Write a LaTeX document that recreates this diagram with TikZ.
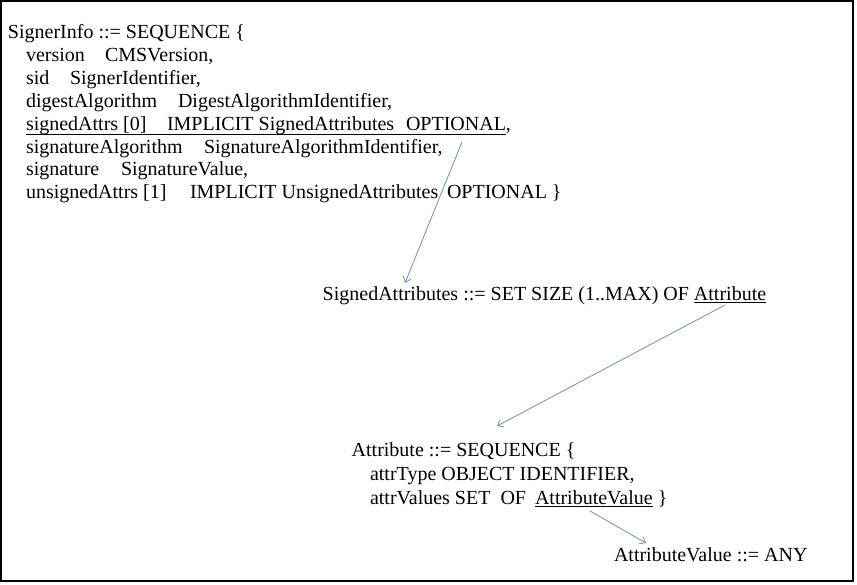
\documentclass[tikz,border=0pt]{standalone}
\usepackage{fontspec}
\setmainfont{Liberation Serif}
\usetikzlibrary{arrows.meta}
\definecolor{arrowblue}{RGB}{112,142,182}
\newcommand\myul[1]{\leavevmode\setbox0=\hbox{#1}\rlap{\rule[-3pt]{\wd0}{0.9pt}}\box0\relax}
\begin{document}
\begin{tikzpicture}[x=1pt,y=-1pt,
  txt/.style={anchor=base west,inner sep=0pt,outer sep=0pt,font=\fontsize{20}{24}\selectfont},
  conn/.style={draw=arrowblue,line width=0.8pt,-{Straight Barb[length=5pt,width=8pt]}},
  ulline/.style={line width=0.9pt}]
\useasboundingbox (0,0) rectangle (857,584);
\draw[line width=1.3pt] (1,1) rectangle (853,581);
% SignerInfo block
\node[txt] (l1) at (8,38.5) {SignerInfo ::= SEQUENCE \{};
\node[txt] (l2a) at (26,61.4) {version};
\node[txt] (l2b) at (105,61.4) {CMSVersion,};
\node[txt] (l3a) at (26,84.3) {sid};
\node[txt] (l3b) at (70,84.3) {SignerIdentifier,};
\node[txt] (l4a) at (26,107.2) {digestAlgorithm};
\node[txt] (l4b) at (178,107.2) {DigestAlgorithmIdentifier,};
\node[txt] (l5a) at (26,130.1) {signedAttrs [0]};
\node[txt] (l5b) at (167,130.1) {IMPLICIT SignedAttributes};
\node[txt] (l5c) at (406,130.1) {OPTIONAL,};
\node[txt] (l6a) at (26,153) {signatureAlgorithm};
\node[txt] (l6b) at (204,153) {SignatureAlgorithmIdentifier,};
\node[txt] (l7a) at (26,175.9) {signature};
\node[txt] (l7b) at (121,175.9) {SignatureValue,};
\node[txt] (l8a) at (26,198.8) {unsignedAttrs [1]};
\node[txt] (l8b) at (190,198.8) {IMPLICIT UnsignedAttributes};
\node[txt] (l8c) at (447,198.8) {OPTIONAL \}};
\draw[ulline] ([yshift=-4pt]l5a.base west) -- ([yshift=-4pt,xshift=-5pt]l5c.base east);
% SignedAttributes
\node[txt] (sa) at (322.7,300) {SignedAttributes ::= SET SIZE (1..MAX) OF \myul{Attribute}};
% Attribute block
\node[txt] (at1) at (351.7,456.7) {Attribute ::= SEQUENCE \{};
\node[txt] (at2) at (370,480.3) {attrType OBJECT IDENTIFIER,};
\node[txt] (at3a) at (370,504) {attrValues SET\ \ OF};
\node[txt] (at3b) at (535,504) {\myul{AttributeValue} \}};
% AttributeValue
\node[txt] (av) at (614,561.7) {AttributeValue ::= ANY};
% connectors
\coordinate (c1s) at (462,142);
\coordinate (c1e) at (405,283);
\coordinate (c2s) at (725,305);
\coordinate (c2e) at (497,426);
\coordinate (c3s) at (590,511);
\coordinate (c3e) at (646,543);
\draw[conn] (c1s) -- (c1e);
\draw[conn] (c2s) -- (c2e);
\draw[conn] (c3s) -- (c3e);
\end{tikzpicture}
\end{document}
